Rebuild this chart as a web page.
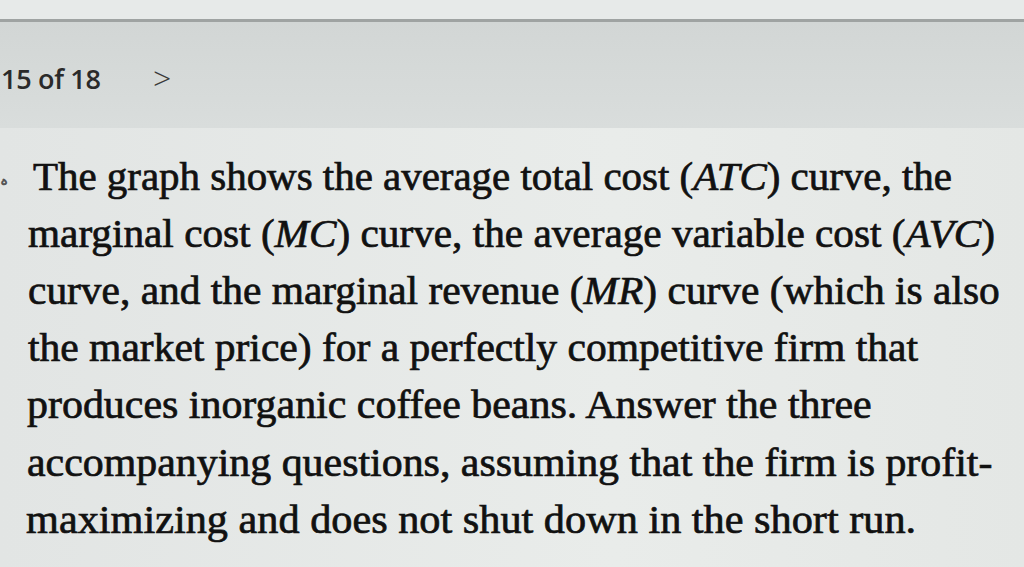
<!DOCTYPE html>
<html>
<head>
<meta charset="utf-8">
<script src="https://cdn.jsdelivr.net/npm/chart.js@4"></script>
<style>
  html, body { margin: 0; padding: 0; }
  body { width: 1024px; height: 567px; overflow: hidden; position: relative;
         background: linear-gradient(90deg, #e2e5e4 0%, #e9ecea 60%, #e4e7e5 100%); }
  #topstrip { position: absolute; left: 0; top: 0; width: 1024px; height: 19px; background: #e7eae9; }
  #rule { position: absolute; left: 0; top: 19px; width: 1024px; height: 3px; background: #9fa3a2; }
  #header { position: absolute; left: 0; top: 22px; width: 1024px; height: 106px;
            background: linear-gradient(180deg, #d2d6d5 0%, #d9dddc 100%); }
  #counter { position: absolute; left: 1px; top: 60px; font: 600 27px "Open Sans", sans-serif; color: #2a2a2a;
             letter-spacing: -0.3px; }
  #next { position: absolute; left: 153px; top: 56px; font: 300 32px "Open Sans", sans-serif; color: #3a3a3a; }
  .line { position: absolute; left: 0; font-family: "Liberation Serif", "Times New Roman", serif;
          font-size: 40px; color: #111; white-space: nowrap; transform-origin: 0 0;
          -webkit-text-stroke: 0.7px #111; }
  .line i { font-style: italic; }
  #mark { position: absolute; left: 0; top: 172px; font: 700 14px "DejaVu Sans", sans-serif; color: #555; }
</style>
</head>
<body>
<div id="topstrip"></div>
<div id="rule"></div>
<div id="header"></div>
<div id="counter">15 of 18</div>
<div id="next">&gt;</div>
<div id="mark">ہ</div>
<div id="text"></div>
<script>
// lines of the question text, with left edge, right edge and baseline
const lines = [
  'The graph shows the average total cost (<i>ATC</i>) curve, the',
  'marginal cost (<i>MC</i>) curve, the average variable cost (<i>AVC</i>)',
  'curve, and the marginal revenue (<i>MR</i>) curve (which is also',
  'the market price) for a perfectly competitive firm that',
  'produces inorganic coffee beans. Answer the three',
  'accompanying questions, assuming that the firm is profit-',
  'maximizing and does not shut down in the short run.'
];
const lefts = [33, 28, 28, 28, 27, 27, 26];
const rights = [952, 995, 1000, 918, 872, 992, 916];
const baselines = [190, 247, 304, 361, 418, 476, 533];

const holder = document.getElementById('text');
lines.forEach((html, i) => {
  const d = document.createElement('div');
  d.className = 'line';
  d.innerHTML = html;
  holder.appendChild(d);
  const w = d.getBoundingClientRect().width;
  const sx = (rights[i] - lefts[i]) / w;
  d.style.left = lefts[i] + 'px';
  d.style.top = (baselines[i] - 37) + 'px';
  d.style.transform = 'scaleX(' + sx.toFixed(3) + ')';
});
</script>
</body>
</html>
